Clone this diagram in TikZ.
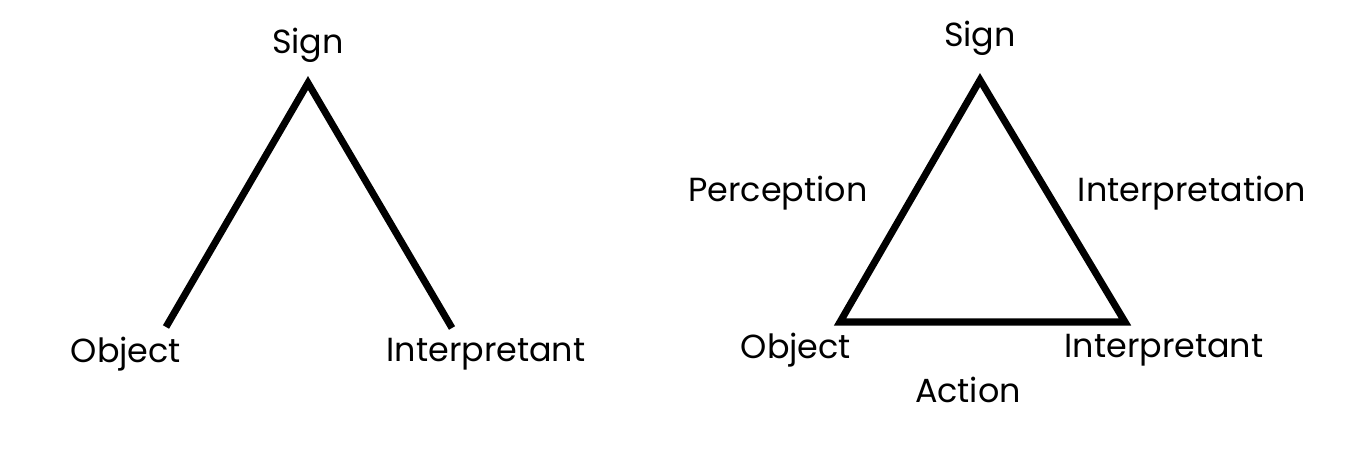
\documentclass[tikz,border=0pt]{standalone}
\usepackage{fontspec}
\setmainfont{Poppins}
\begin{document}
\begin{tikzpicture}[x=0.02cm,y=-0.02cm,
  edge/.style={line width=4pt,line join=miter},
  lbl/.style={font=\fontsize{19}{22}\selectfont,inner sep=0pt}]
\useasboundingbox (0,0) rectangle (1366,459);
% left
\coordinate (s1) at (308,83);
\coordinate (o1) at (166,327);
\coordinate (i1) at (452,328);
\draw[edge] (o1) -- (s1) -- (i1);
\node[lbl] (ls1) at (308,45) {Sign};
\node[lbl] (lo1) at (126,354) {Object};
\node[lbl] (li1) at (486,354) {Interpretant};
% right
\coordinate (s2) at (980,80);
\coordinate (o2) at (840,322);
\coordinate (i2) at (1125,322);
\draw[edge] (s2) -- (o2) -- (i2) -- cycle;
\node[lbl] (ls2) at (980,38) {Sign};
\node[lbl] (lp) at (778,193) {Perception};
\node[lbl] (lint) at (1192,193) {Interpretation};
\node[lbl] (lo2) at (796,350) {Object};
\node[lbl] (li2) at (1164,350) {Interpretant};
\node[lbl] (la) at (968,390) {Action};
\end{tikzpicture}
\end{document}
